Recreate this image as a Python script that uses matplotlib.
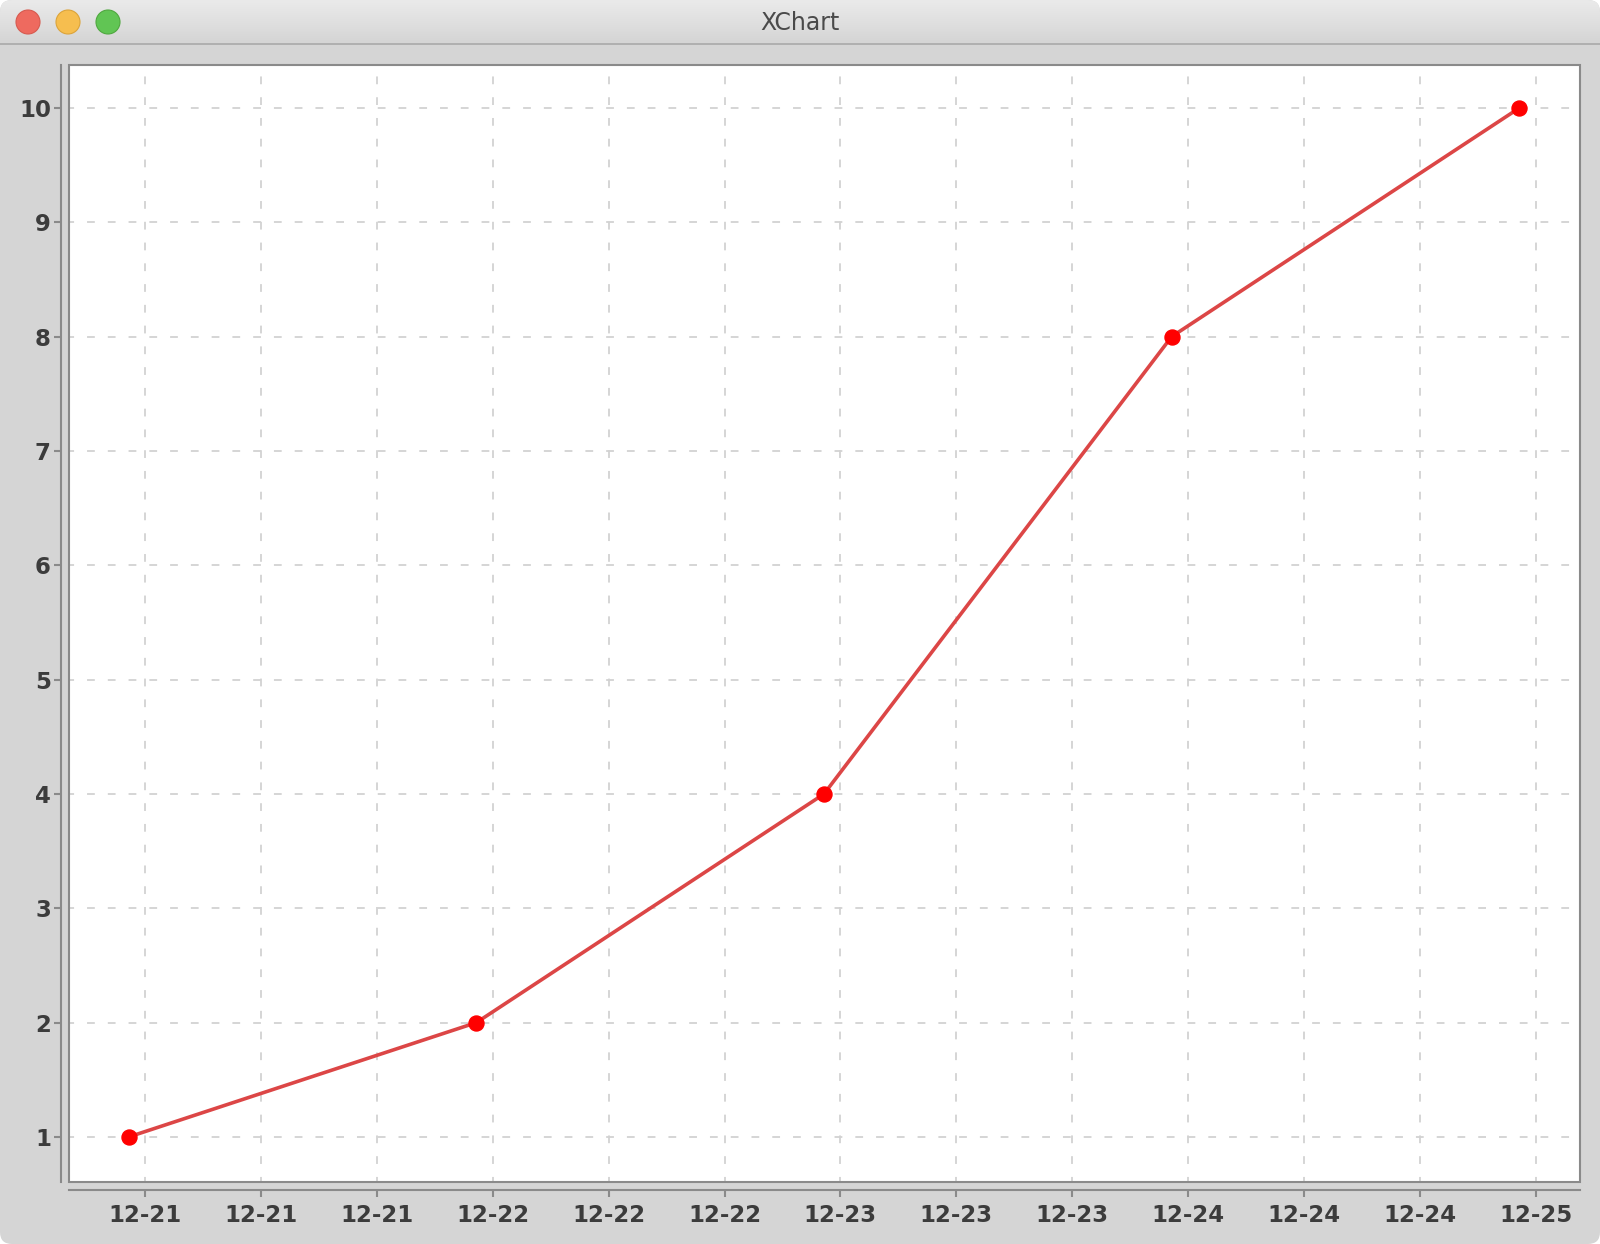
import datetime as dt
import numpy as np
import matplotlib
matplotlib.use("Agg")
import matplotlib.pyplot as plt
import matplotlib.dates as mdates
from matplotlib.patches import FancyBboxPatch, Circle, Rectangle

# ---- data ----
dates = [dt.datetime(2017, 12, 21), dt.datetime(2017, 12, 22), dt.datetime(2017, 12, 23),
         dt.datetime(2017, 12, 24), dt.datetime(2017, 12, 25)]
values = [1, 2, 4, 8, 10]
tick_labels = ["12-21", "12-21", "12-21", "12-22", "12-22", "12-22", "12-23",
               "12-23", "12-23", "12-24", "12-24", "12-24", "12-25"]
y_ticks = [1, 2, 3, 4, 5, 6, 7, 8, 9, 10]
title = "XChart"

W, H = 1600, 1244
DPI = 100
fig = plt.figure(figsize=(W / DPI, H / DPI), dpi=DPI, facecolor="white")

# ---- window chrome ----
bg = fig.add_axes([0, 0, 1, 1], zorder=0)
win = FancyBboxPatch((0, 0), W, H, boxstyle="round,pad=0,rounding_size=12",
                     facecolor="#d5d5d5", edgecolor="none", zorder=1)
bg.add_patch(win)
grad = np.linspace(0, 1, 64).reshape(-1, 1)
top_c = np.array([0.918, 0.918, 0.918])
bot_c = np.array([0.835, 0.835, 0.835])
img = top_c + (bot_c - top_c) * grad[..., None]
img = np.repeat(img, 2, axis=1)
im = bg.imshow(img, extent=(0, W, 43, 0), aspect="auto", interpolation="bilinear", zorder=2)
im.set_clip_path(win)
bg.plot([0, W], [43.5, 43.5], color="#a9a9a9", lw=1.2, zorder=3)
for cx, fc, ec in [(28, "#ee6a5f", "#d75a4f"), (68, "#f6be4f", "#dca43a"), (108, "#61c554", "#4fa83f")]:
    bg.add_patch(Circle((cx, 22), 12, facecolor=fc, edgecolor=ec, lw=0.8, zorder=4))
bg.text(W / 2, 23.5, title, ha="center", va="center", fontsize=17, color="#4a4a4a",
        family="DejaVu Sans", zorder=5)
bg.set_xlim(0, W)
bg.set_ylim(H, 0)
bg.axis("off")

# ---- plot ----
left, right, top, bottom = 69, 1580, 65, 1182
ax = fig.add_axes([left / W, 1 - bottom / H, (right - left) / W, (bottom - top) / H], zorder=1)
ax.set_facecolor("white")

x0 = mdates.date2num(dates[0])
xs = mdates.date2num(dates)
hour = 1.0 / 24
tick_pos = [x0 + (68 / 60 + 8 * i) * hour for i in range(len(tick_labels))]

ax.plot(dates, values, color="#dc4646", lw=2.6, zorder=3, solid_capstyle="round")
ax.plot(dates, values, linestyle="none", marker="o", markersize=10.8,
        markerfacecolor="#ff0000", markeredgecolor="#ff0000", zorder=4)

ax.set_xlim(x0 - 4.12 * hour, xs[-1] + 4.19 * hour)
ax.set_ylim(0.606, 10.376)
ax.set_xticks(tick_pos)
ax.set_xticklabels(tick_labels)
ax.set_yticks(y_ticks)

ax.grid(True, color="#d2d2d2", lw=1.3, linestyle=(1.5, (4.3, 7.2)))
ax.set_axisbelow(True)

for s in ["top", "right"]:
    ax.spines[s].set_visible(False)
for s in ["left", "bottom"]:
    ax.spines[s].set_position(("outward", 6))
    ax.spines[s].set_color("#8a8a8a")
    ax.spines[s].set_linewidth(1.5)
ax.add_patch(Rectangle((0, 0), 1, 1, transform=ax.transAxes, fill=False,
                       edgecolor="#8a8a8a", lw=1.5, clip_on=False, zorder=5))

ax.tick_params(axis="both", direction="out", length=5, width=1.5, color="#8a8a8a",
               labelsize=16.5, labelcolor="#3c3c3c")
ax.tick_params(axis="x", pad=4.5)
ax.tick_params(axis="y", pad=2)
for lab in ax.get_xticklabels() + ax.get_yticklabels():
    lab.set_fontweight("bold")

fig.savefig("out.png", dpi=DPI, facecolor="white")
